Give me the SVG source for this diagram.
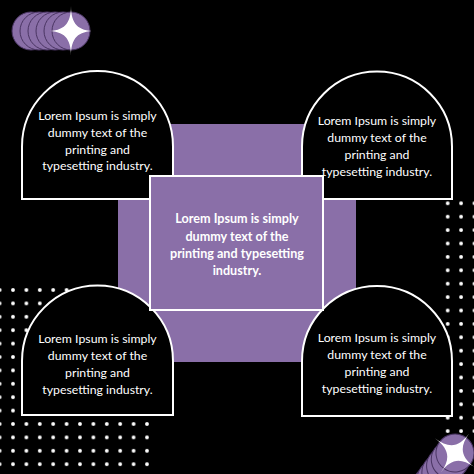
<svg xmlns="http://www.w3.org/2000/svg" width="474" height="474" viewBox="0 0 474 474">
<defs>
<style>
.arch{fill:#000;stroke:#fff;stroke-width:2}
.t{font-family:Lato,"Open Sans","DejaVu Sans",sans-serif;font-size:12.3px;fill:#fff;text-anchor:middle}
.tb{font-family:Lato,"Open Sans","DejaVu Sans",sans-serif;font-size:12.6px;font-weight:bold;fill:#fff;text-anchor:middle}
.circ{fill:#8a6fa8;stroke:#4a3563;stroke-width:1}
.star{fill:#fff}
</style>
<pattern id="dotsL" patternUnits="userSpaceOnUse" x="-7.1" y="283.3" width="13.4" height="13.4">
<circle cx="6.7" cy="6.7" r="1.9" fill="#fff"/>
</pattern>
<pattern id="dotsR" patternUnits="userSpaceOnUse" x="441" y="196.6" width="13.4" height="13.4">
<circle cx="6.7" cy="6.7" r="1.9" fill="#fff"/>
</pattern>
<g id="deco">
<circle class="circ" cx="-40" cy="0" r="19"/>
<circle class="circ" cx="-32" cy="0" r="19"/>
<circle class="circ" cx="-24" cy="0" r="19"/>
<circle class="circ" cx="-16" cy="0" r="19"/>
<circle class="circ" cx="-8" cy="0" r="19"/>
<circle class="circ" cx="0" cy="0" r="19"/>
<path class="star" d="M0,-25 C0,-7 7,0 24,0 C7,0 0,7 0,25 C0,7 -7,0 -24,0 C-7,0 0,-7 0,-25 Z"/>
</g>
</defs>
<rect width="474" height="474" fill="#000"/>
<rect x="-7.1" y="283.3" width="161" height="191" fill="url(#dotsL)"/>
<rect x="441" y="196.6" width="40" height="241.5" fill="url(#dotsR)"/>
<use href="#deco" transform="translate(71,31)"/>
<use href="#deco" transform="translate(455,453) rotate(-54)"/>
<rect x="118" y="124" width="238" height="238" fill="#8a6fa8"/>
<g id="connectors"/>
<g id="node-tl">
<path class="arch" d="M22,199 V146.5 A75.5,75.5 0 0 1 173,146.5 V199 Z"/>
<text class="t" x="97.5" y="120">Lorem Ipsum is simply</text>
<text class="t" x="97.5" y="137">dummy text of the</text>
<text class="t" x="97.5" y="153.5">printing and</text>
<text class="t" x="97.5" y="170">typesetting industry.</text>
</g>
<g id="node-tr">
<path class="arch" d="M302,199 V146.5 A75,75 0 0 1 452,146.5 V199 Z"/>
<text class="t" x="377" y="125">Lorem Ipsum is simply</text>
<text class="t" x="377" y="142">dummy text of the</text>
<text class="t" x="377" y="159">printing and</text>
<text class="t" x="377" y="176">typesetting industry.</text>
</g>
<g id="node-bl">
<path class="arch" d="M22,415 V361 A75.5,75.5 0 0 1 173,361 V415 Z"/>
<text class="t" x="97.5" y="343">Lorem Ipsum is simply</text>
<text class="t" x="97.5" y="360">dummy text of the</text>
<text class="t" x="97.5" y="377">printing and</text>
<text class="t" x="97.5" y="394">typesetting industry.</text>
</g>
<g id="node-br">
<path class="arch" d="M302,416 V361 A75,75 0 0 1 452,361 V416 Z"/>
<text class="t" x="377" y="342">Lorem Ipsum is simply</text>
<text class="t" x="377" y="359">dummy text of the</text>
<text class="t" x="377" y="376">printing and</text>
<text class="t" x="377" y="393">typesetting industry.</text>
</g>
<g id="node-center">
<rect x="150" y="176" width="173" height="134" fill="#8a6fa8" stroke="#fff" stroke-width="2"/>
<text class="tb" x="237" y="223">Lorem Ipsum is simply</text>
<text class="tb" x="237" y="241">dummy text of the</text>
<text class="tb" x="237" y="258">printing and typesetting</text>
<text class="tb" x="237" y="275">industry.</text>
</g>
</svg>
